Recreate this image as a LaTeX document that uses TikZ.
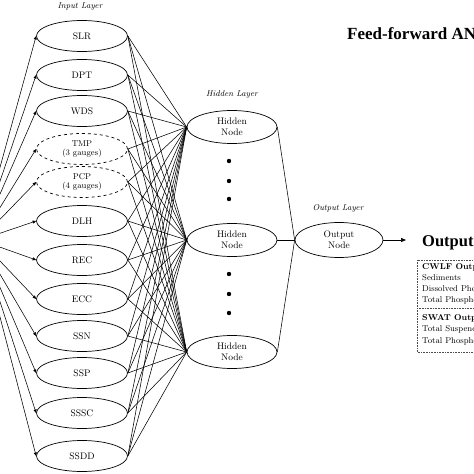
\documentclass[tikz,border=0pt]{standalone}
\usepackage{fontspec}
\usetikzlibrary{shapes.geometric,arrows.meta}
\newfontfamily\tms{Liberation Serif}
\begin{document}
\begin{tikzpicture}[x=1pt,y=-1pt,
  inp/.style={ellipse,draw,line width=0.7pt,minimum width=91pt,minimum height=31pt,inner sep=0pt,font=\fontsize{9.5}{10}\selectfont,align=center},
  inpd/.style={inp,dashed,font=\fontsize{8.5}{9.5}\selectfont},
  hid/.style={ellipse,draw,line width=0.7pt,minimum width=90pt,minimum height=33pt,inner sep=0pt,font=\fontsize{9.5}{11}\selectfont,align=center},
  conn/.style={line width=0.55pt},
  feed/.style={line width=0.55pt,-{Triangle[length=3.5pt,width=3pt]}},
  lay/.style={font=\itshape\fontsize{8.5}{9}\selectfont},
  dotn/.style={circle,fill,inner sep=0pt,minimum size=4.4pt},
  boxt/.style={anchor=west,inner sep=0pt,font=\fontsize{8.5}{9}\selectfont}]
\useasboundingbox (0,0) rectangle (474,474);
\clip (0,0) rectangle (474,474);
% input layer
\node[lay] (li) at (80,6) {Input Layer};
\node[inp] (i1) at (82,36) {SLR};
\node[inp] (i2) at (82,75) {DPT};
\node[inp] (i3) at (82,111) {WDS};
\node[inpd] (i4) at (82,149) {TMP\\(3 gauges)};
\node[inpd] (i5) at (82,182) {PCP\\(4 gauges)};
\node[inp] (i6) at (82,221) {DLH};
\node[inp] (i7) at (82,260) {REC};
\node[inp] (i8) at (82,299) {ECC};
\node[inp] (i9) at (82,336) {SSN};
\node[inp] (i10) at (82,373) {SSP};
\node[inp] (i11) at (82,413) {SSSC};
\node[inp] (i12) at (82,456) {SSDD};
\coordinate (src) at (-20,240);
% hidden layer
\node[lay] (lh) at (232,94) {Hidden Layer};
\node[hid] (h1) at (232,127) {Hidden\\Node};
\node[hid] (h2) at (232,240) {Hidden\\Node};
\node[hid] (h3) at (232,352) {Hidden\\Node};
\node[dotn] (d1) at (229,161) {};
\node[dotn] (d2) at (229,181) {};
\node[dotn] (d3) at (229,199) {};
\node[dotn] (d4) at (229,274) {};
\node[dotn] (d5) at (229,294) {};
\node[dotn] (d6) at (229,313) {};
% output layer
\node[lay] (lo) at (338,208) {Output Layer};
\node[hid,minimum width=88pt,minimum height=35pt] (o) at (339,240) {Output\\Node};
\coordinate (oend) at (406,240);
% connections
\foreach \i in {1,...,12}{
  \draw[feed] (src) -- (i\i.west);
  \foreach \h in {1,2,3}{
    \draw[conn] (i\i.east) -- (h\h.west);
  }
}
\foreach \h in {1,2,3}{
  \draw[conn] (h\h.east) -- (o.west);
}
\draw[line width=0.7pt,-{Triangle[length=5pt,width=4pt]}] (o.east) -- (oend);
% title and output box
\node[anchor=west,inner sep=0pt,font=\tms\bfseries\fontsize{17}{18}\selectfont] (title) at (347,34) {Feed-forward ANN};
\node[anchor=west,inner sep=0pt,font=\tms\bfseries\fontsize{16.5}{17}\selectfont] (out) at (422,243) {Output};
\draw[densely dotted,line width=0.6pt,black!70] (417,260) rectangle (520,352);
\draw[densely dotted,line width=0.6pt,black!70] (417,308) -- (520,308);
\node[boxt,font=\bfseries\fontsize{8.5}{9}\selectfont] (c0) at (422,267) {CWLF Outputs};
\node[boxt] (c1) at (422,278) {Sediments};
\node[boxt] (c2) at (422,289) {Dissolved Phosphorus};
\node[boxt] (c3) at (422,300) {Total Phosphorus};
\node[boxt,font=\bfseries\fontsize{8.5}{9}\selectfont] (s0) at (422,318) {SWAT Outputs};
\node[boxt] (s1) at (422,329) {Total Suspended Solids};
\node[boxt] (s2) at (422,341) {Total Phosphorus};
\end{tikzpicture}
\end{document}
